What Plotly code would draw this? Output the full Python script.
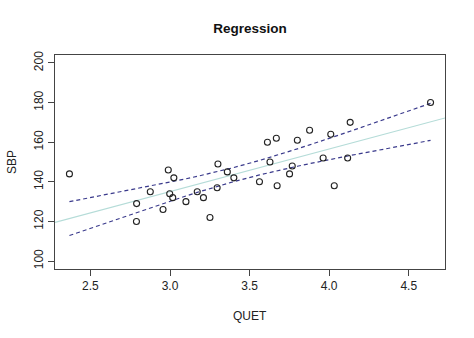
import numpy as np
import plotly.graph_objects as go

# Body size index (QUET) and systolic blood pressure (SBP) for 32 subjects
quet = [2.876, 3.251, 3.100, 3.768, 2.989, 2.790, 3.668, 3.612, 2.368, 4.637,
        3.877, 4.032, 4.116, 3.673, 3.562, 2.998, 3.360, 3.024, 3.171, 3.401,
        3.628, 3.751, 3.296, 3.210, 3.301, 3.017, 2.789, 2.956, 3.800, 4.132,
        3.962, 4.010]
sbp = [135, 122, 130, 148, 146, 129, 162, 160, 144, 180,
       166, 138, 152, 138, 140, 134, 145, 142, 135, 142,
       150, 144, 137, 132, 149, 132, 120, 126, 161, 170,
       152, 164]

x_ticks = [2.5, 3.0, 3.5, 4.0, 4.5]
y_ticks = [100, 120, 140, 160, 180, 200]

x = np.array(quet, dtype=float)
y = np.array(sbp, dtype=float)
n = len(x)

# Least-squares fit and 95% confidence band for the mean response
slope, intercept = np.polyfit(x, y, 1)
resid = y - (intercept + slope * x)
s = np.sqrt(np.sum(resid ** 2) / (n - 2))
sxx = np.sum((x - x.mean()) ** 2)
t_crit = 2.042272  # t quantile, 0.975, 30 df

xs = np.sort(x)
fit_band = intercept + slope * xs
half = t_crit * s * np.sqrt(1.0 / n + (xs - x.mean()) ** 2 / sxx)
upper = fit_band + half
lower = fit_band - half

# R-style axis ranges: 4% padding on each side
xpad = 0.04 * (x.max() - x.min())
xr = [x.min() - xpad, x.max() + xpad]
yr = [100 - 4, 200 + 4]

line_x = np.array(xr)
line_y = intercept + slope * line_x

fig = go.Figure()
fig.add_trace(go.Scatter(x=line_x, y=line_y, mode="lines",
                         line=dict(color="#b5dcd8", width=1.2),
                         hoverinfo="skip", showlegend=False))
fig.add_trace(go.Scatter(x=xs, y=upper, mode="lines",
                         line=dict(color="#3a3a8c", width=1.2, dash="4px,3px"),
                         showlegend=False))
fig.add_trace(go.Scatter(x=xs, y=lower, mode="lines",
                         line=dict(color="#3a3a8c", width=1.2, dash="4px,3px"),
                         showlegend=False))
fig.add_trace(go.Scatter(x=quet, y=sbp, mode="markers",
                         marker=dict(symbol="circle-open", size=6,
                                     color="#222222", line=dict(width=1.1)),
                         showlegend=False))

font_family = "Liberation Sans, Arial, sans-serif"
axis_common = dict(showline=True, mirror=True, linecolor="#444444", linewidth=1,
                   ticks="outside", ticklen=6, tickcolor="#444444", tickwidth=1,
                   showgrid=False, zeroline=False,
                   tickfont=dict(family=font_family, size=12, color="#222222"))

fig.update_layout(
    width=474, height=338,
    margin=dict(l=55, r=29, t=55, b=69),
    paper_bgcolor="white", plot_bgcolor="white",
    font=dict(family=font_family, color="#111111"),
    title=dict(text="<b>Regression</b>", x=250 / 474, xanchor="center",
               y=1 - 28 / 338, yanchor="middle",
               font=dict(family=font_family, size=13.5, color="#111111")),
    xaxis=dict(range=xr, tickvals=x_ticks,
               ticktext=[f"{v:.1f}" for v in x_ticks], **axis_common),
    yaxis=dict(range=yr, tickvals=y_ticks, tickangle=-90, **axis_common),
    annotations=[
        dict(text="QUET", xref="paper", yref="paper", x=0.5, y=-47 / 214,
             xanchor="center", yanchor="middle", showarrow=False,
             font=dict(family=font_family, size=12, color="#222222")),
        dict(text="SBP", xref="paper", yref="paper", x=-43 / 390, y=0.5,
             xanchor="center", yanchor="middle", textangle=-90, showarrow=False,
             font=dict(family=font_family, size=12, color="#222222")),
    ],
)

fig.write_html("out.html")
